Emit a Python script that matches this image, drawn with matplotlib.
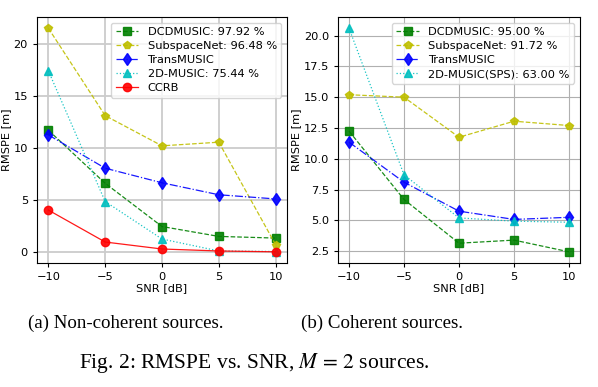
import matplotlib
matplotlib.use("Agg")
import matplotlib.pyplot as plt

snr = [-10, -5, 0, 5, 10]

# (a) Non-coherent sources
a_dcd = [11.7, 6.6, 2.45, 1.5, 1.34]
a_sub = [21.5, 13.1, 10.2, 10.55, 0.7]
a_trans = [11.25, 8.05, 6.65, 5.5, 5.1]
a_2d = [17.4, 4.85, 1.25, 0.1, 0.05]
a_ccrb = [4.03, 0.96, 0.29, 0.1, 0.02]
a_labels = ["DCDMUSIC: 97.92 %", "SubspaceNet: 96.48 %", "TransMUSIC",
            "2D-MUSIC: 75.44 %", "CCRB"]

# (b) Coherent sources
b_dcd = [12.25, 6.7, 3.15, 3.4, 2.45]
b_sub = [15.2, 15.0, 11.75, 13.05, 12.7]
b_trans = [11.35, 8.1, 5.75, 5.08, 5.25]
b_2d = [20.6, 8.7, 5.2, 4.94, 4.85]
b_labels = ["DCDMUSIC: 95.00 %", "SubspaceNet: 91.72 %", "TransMUSIC",
            "2D-MUSIC(SPS): 63.00 %"]

styles = [dict(color="g", marker="s", ls="--"),
          dict(color="y", marker="p", ls="--"),
          dict(color="b", marker="d", ls="-."),
          dict(color="c", marker="^", ls=":"),
          dict(color="r", marker="o", ls="-")]

fig = plt.figure(figsize=(5.98, 3.87), dpi=100)
ax1 = fig.add_axes([37/598, 1-263/387, 250/598, 246/387])
ax2 = fig.add_axes([338/598, 1-263/387, 242/598, 246/387])

for ax, series, labels, gc, glw in [
        (ax1, [a_dcd, a_sub, a_trans, a_2d, a_ccrb], a_labels, "#cccccc", 1.3),
        (ax2, [b_dcd, b_sub, b_trans, b_2d], b_labels, "#b0b0b0", 0.8)]:
    for vals, lab, st in zip(series, labels, styles):
        ax.plot(snr, vals, label=lab, lw=0.9, ms=6, alpha=0.9, **st)
    ax.grid(True, color=gc, lw=glw)
    ax.set_axisbelow(True)
    ax.set_xticks([-10, -5, 0, 5, 10])
    ax.tick_params(labelsize=8.2, length=3)
    ax.set_xlabel("SNR [dB]", fontsize=8.2, labelpad=1)
    ax.set_ylabel("RMSPE [m]", fontsize=8.2, labelpad=2)
    ax.legend(loc="upper right", fontsize=8.2, handlelength=2.0,
              borderpad=0.4, labelspacing=0.35)

ax2.set_yticks([2.5, 5.0, 7.5, 10.0, 12.5, 15.0, 17.5, 20.0])

serif = ["Liberation Serif", "DejaVu Serif"]
fig.text(126/598, 1-323/387, "(a) Non-coherent sources.", ha="center", va="center",
         fontsize=13.6, family=serif)
fig.text(382/598, 1-323/387, "(b) Coherent sources.", ha="center", va="center",
         fontsize=13.6, family=serif)
fig.text(254/598, 1-363/387, "Fig. 2: RMSPE vs. SNR, $M\\,=\\,2$ sources.", ha="center",
         va="center", fontsize=15.5, family=serif, math_fontfamily="stix")

fig.savefig("out.png", dpi=100)
